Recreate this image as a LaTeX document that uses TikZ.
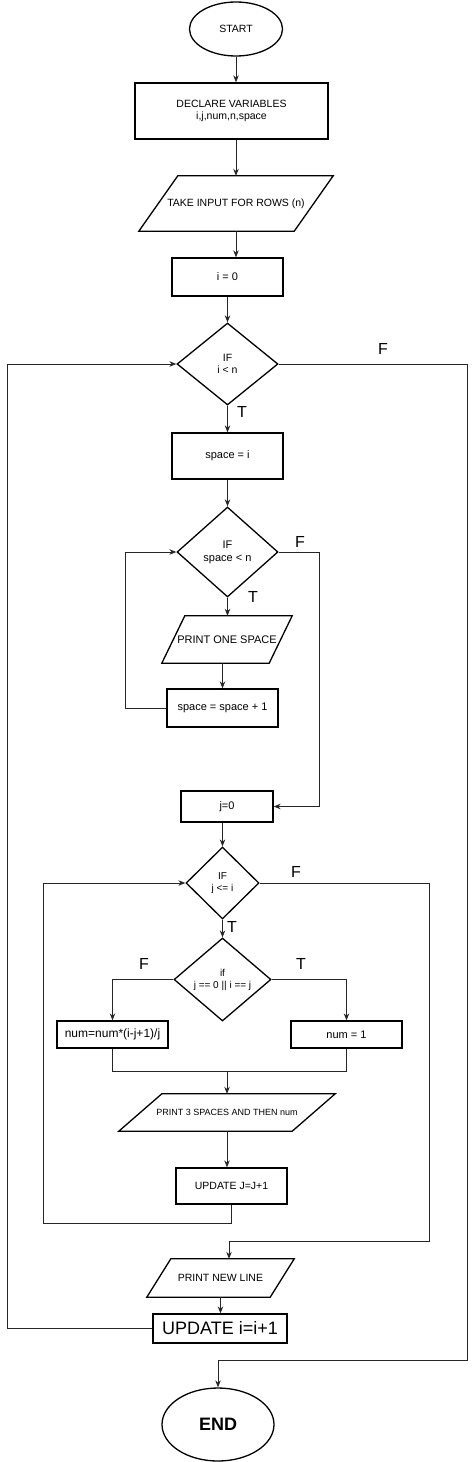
\documentclass[tikz,border=0pt]{standalone}
\usepackage{fontspec}
\setmainfont{Liberation Sans}
\usetikzlibrary{shapes, shapes.geometric, arrows, arrows.meta}

\begin{document}
\begin{tikzpicture}[x=1pt, y=-1pt,
    every node/.style = {align=center, inner sep=1pt,
        font=\fontsize{10.5}{12.5}\selectfont},
    terminal/.style = {shape=ellipse, draw, line width=1.3pt},
    procbox/.style = {shape=rectangle, draw, line width=1.3pt},
    iobox/.style = {shape=rectangle, inner sep=0pt},
    ioedge/.style = {draw, line width=1.3pt, line join=miter},
    decide/.style = {shape=diamond, draw, line width=1.3pt, inner sep=0pt},
    flow/.style = {draw=black!85, line width=0.8pt},
    arr/.style = {flow, -{Stealth[length=7pt, width=5.5pt]}},
    tf/.style = {font=\fontsize{16}{18}\selectfont}]
    \useasboundingbox (0,0) rectangle (474,1462);

    \node[terminal, minimum width=93pt, minimum height=54pt] (start) at (236,29) {START};
    \node[procbox, minimum width=193pt, minimum height=56pt] (declare) at (231.5,111)
        {DECLARE VARIABLES\\i,j,num,n,space};
    \node[iobox, minimum width=194pt, minimum height=55pt] (input) at (236,203.5)
        {TAKE INPUT FOR ROWS (n)};
    \node[procbox, minimum width=111pt, minimum height=38pt,
        font=\fontsize{11}{13}\selectfont] (iinit) at (227.5,277) {i = 0};
    \node[decide, minimum width=101pt, minimum height=82pt] (ifi) at (227.5,364) {IF\\i < n};
    \node[procbox, minimum width=111pt, minimum height=46pt,
        font=\fontsize{11}{13}\selectfont] (spacei) at (227.5,456) {space = i};
    \node[decide, minimum width=101pt, minimum height=90pt,
        font=\fontsize{11}{13}\selectfont] (ifs) at (227.5,552) {IF\\space < n};
    \node[iobox, minimum width=130pt, minimum height=47pt,
        font=\fontsize{11}{13}\selectfont] (pspace) at (227,639.5) {PRINT ONE SPACE};
    \node[procbox, minimum width=111pt, minimum height=38pt,
        font=\fontsize{11}{13}\selectfont] (incs) at (222.5,708) {space = space + 1};
    \node[procbox, minimum width=92pt, minimum height=31pt,
        font=\fontsize{11}{13}\selectfont] (jinit) at (227,806.5) {j=0};
    \node[decide, minimum width=73pt, minimum height=72pt,
        font=\fontsize{10}{12}\selectfont] (ifj) at (222.5,883) {IF\\j <= i};
    \node[decide, minimum width=97pt, minimum height=83pt,
        font=\fontsize{10}{12}\selectfont] (ifz) at (222.5,979.5) {if\\j == 0 || i == j};
    \node[procbox, minimum width=111pt, minimum height=27pt,
        font=\fontsize{12}{14}\selectfont] (numf) at (112.5,1034.5) {num=num*(i-j+1)/j};
    \node[procbox, minimum width=111pt, minimum height=27pt,
        font=\fontsize{11}{13}\selectfont] (numt) at (346.5,1034.5) {num = 1};
    \node[iobox, minimum width=216pt, minimum height=37pt,
        font=\fontsize{9}{11}\selectfont] (pnum) at (227,1112.5) {PRINT 3 SPACES AND THEN num};
    \node[procbox, minimum width=111pt, minimum height=36pt] (incj) at (231.5,1186) {UPDATE J=J+1};
    \node[iobox, minimum width=147pt, minimum height=38pt] (pline) at (220.5,1278) {PRINT NEW LINE};
    \node[procbox, minimum width=134pt, minimum height=29pt,
        font=\fontsize{18}{20}\selectfont] (inci) at (220,1328.5) {UPDATE i=i+1};
    \node[terminal, minimum width=112pt, minimum height=73pt,
        font=\fontsize{18}{20}\selectfont\bfseries] (stop) at (218,1424.5) {END};

    \foreach \n/\s in {input/39, pspace/23, pnum/43, pline/24}
        \draw[ioedge] ([xshift=\s pt]\n.north west) -- (\n.north east)
            -- ([xshift=-\s pt]\n.south east) -- (\n.south west) -- cycle;

    \coordinate (merge) at (227,1071);
    \coordinate (jloop) at (43,1223);
    \coordinate (jexit) at (429,1241);
    \coordinate (iloop) at (7,1328.5);
    \coordinate (iexit) at (467,1360);

    \draw[arr] (start.south) -- (start.south |- declare.north);
    \draw[arr] (input.north |- declare.south) -- (input.north);
    \draw[arr] (input.south) -- (input.south |- iinit.north);
    \draw[arr] (iinit) -- (ifi);
    \draw[arr] (ifi) -- (spacei);
    \draw[arr] (spacei) -- (ifs);
    \draw[arr] (ifs.south) -- (ifs.south |- pspace.north);
    \draw[arr] (incs.north |- pspace.south) -- (incs.north);
    \draw[arr] (incs.west) -- ++(-41,0) |- (ifs.west);
    \draw[arr] (ifs.east) -- ++(41,0) |- (jinit.east);
    \draw[arr] (ifj.north |- jinit.south) -- (ifj.north);
    \draw[arr] (ifj) -- (ifz);
    \draw[arr] (ifz.west) -| (numf.north);
    \draw[arr] (ifz.east) -| (numt.north);
    \draw[flow] (numf.south) |- (merge) -| (numt.south);
    \draw[arr] (merge) -- (merge |- pnum.north);
    \draw[arr] (pnum.south) -- (pnum.south |- incj.north);
    \draw[arr] (incj.south) |- (jloop) |- (ifj.west);
    \draw[arr] (ifj.east) -| (jexit) -| ([xshift=8.5pt]pline.north);
    \draw[arr] (pline.south) -- (pline.south |- inci.north);
    \draw[arr] (inci.west) -- (iloop) |- (ifi.west);
    \draw[arr] (ifi.east) -| (iexit) -| (stop.north);

    \node[tf] (fi) at (383,349) {F};
    \node[tf] (ti) at (242,412) {T};
    \node[tf] (fs) at (300,542) {F};
    \node[tf] (ts) at (253,597) {T};
    \node[tf] (fj) at (296,872) {F};
    \node[tf] (tj) at (232,927) {T};
    \node[tf] (fz) at (144,964) {F};
    \node[tf] (tz) at (301,964) {T};
\end{tikzpicture}
\end{document}
